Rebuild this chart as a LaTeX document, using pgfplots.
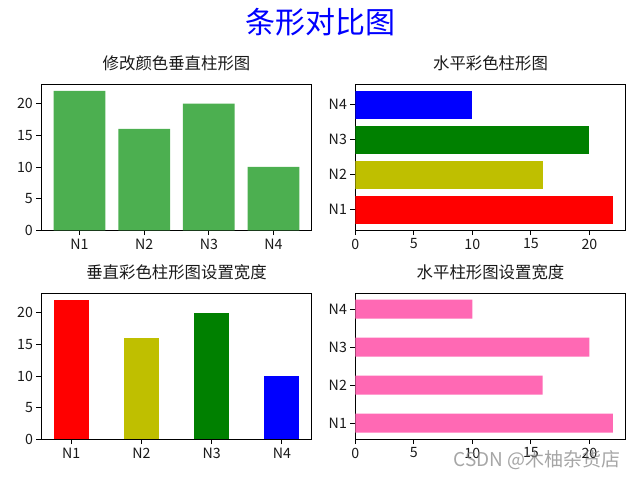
\documentclass[border=0pt]{standalone}
\usepackage{fontspec}
\setmainfont{Noto Sans CJK SC}
\usepackage{pgfplots}
\pgfplotsset{compat=1.18}

\definecolor{barg}{HTML}{4CAF50}
\definecolor{mpy}{HTML}{BFBF00}
\definecolor{mpg}{HTML}{008000}
\definecolor{pink}{HTML}{FF69B4}

\pgfplotsset{
  sub/.style={
    scale only axis, width=270.4bp, height=146.3bp, anchor=south west,
    axis line style={black, line width=0.8pt},
    tick align=outside, major tick length=4.9bp,
    xtick pos=lower, ytick pos=left,
    tick style={black, line width=0.8pt},
    tick label style={font=\fontsize{14.2bp}{15bp}\selectfont, text=black!90},
    title style={font=\fontsize{16.4bp}{18bp}\selectfont, text=black!90,
      at={(0.5,1)}, anchor=south, inner sep=0pt, yshift=7bp},
    /pgf/number format/assume math mode=true,
    every axis plot/.append style={draw=none},
  },
  vbars/.style={sub, ybar, bar shift=0pt,
    xtick={0,1,2,3}, xticklabels={N1,N2,N3,N4},
    ymin=0, ymax=23.1, ytick={0,5,10,15,20}},
  hbars/.style={sub, xbar, bar shift=0pt,
    ytick={0,1,2,3}, yticklabels={N1,N2,N3,N4},
    xmin=0, xmax=23.1, xtick={0,5,10,15,20}},
}

\begin{document}
\begin{tikzpicture}
\path[use as bounding box] (0,0) rectangle (640bp,480bp);

\node[text=blue, font=\fontsize{30bp}{34bp}\selectfont] at (320bp,458bp) {条形对比图};

% top left
\begin{axis}[vbars, at={(41.3bp,249.7bp)}, xmin=-0.59, xmax=3.59, bar width=0.8,
  title={修改颜色垂直柱形图}]
\addplot[fill=barg] coordinates {(0,22) (1,16) (2,20) (3,10)};
\end{axis}

% top right
\begin{axis}[hbars, at={(355.3bp,249.7bp)}, ymin=-0.59, ymax=3.59, bar width=0.8,
  title={水平彩色柱形图}]
\addplot[fill=red] coordinates {(22,0)};
\addplot[fill=mpy] coordinates {(16,1)};
\addplot[fill=mpg] coordinates {(20,2)};
\addplot[fill=blue] coordinates {(10,3)};
\end{axis}

% bottom left
\begin{axis}[vbars, at={(41.3bp,40.7bp)}, xmin=-0.425, xmax=3.425, bar width=0.5,
  title={垂直彩色柱形图设置宽度}]
\addplot[fill=red] coordinates {(0,22)};
\addplot[fill=mpy] coordinates {(1,16)};
\addplot[fill=mpg] coordinates {(2,20)};
\addplot[fill=blue] coordinates {(3,10)};
\end{axis}

% bottom right
\begin{axis}[hbars, at={(355.3bp,40.7bp)}, ymin=-0.425, ymax=3.425, bar width=0.5,
  title={水平柱形图设置宽度}]
\addplot[fill=pink] coordinates {(22,0) (16,1) (20,2) (10,3)};
\end{axis}

% watermark, drawn over the tick labels as in the reference
\node[text=gray, opacity=0.7, font=\fontsize{19bp}{21bp}\selectfont, anchor=east]
  at (624bp,20bp) {CSDN @木柚杂货店};
\end{tikzpicture}
\end{document}
